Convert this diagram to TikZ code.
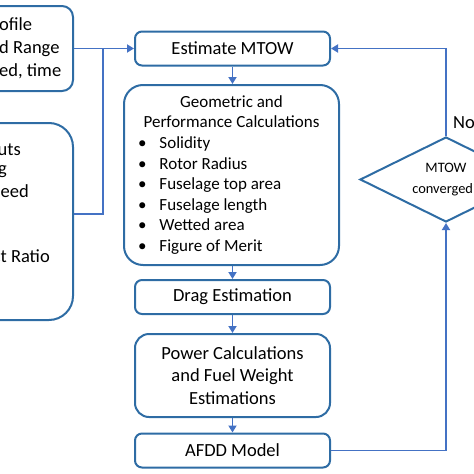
\documentclass[tikz,border=0pt]{standalone}
\usepackage{fontspec}
\setmainfont{Carlito}
\usetikzlibrary{shapes.geometric,arrows.meta}
\definecolor{boxblue}{RGB}{46,108,164}
\definecolor{lineblue}{RGB}{68,114,196}
\newcommand{\bitem}[1]{\makebox[187pt][l]{\makebox[21.5pt][l]{\textbullet}#1}}
\tikzset{
  box/.style={draw=boxblue,line width=2pt,rounded corners=7pt,minimum width=195pt,
    minimum height=34pt,inner sep=2pt,align=center,font=\fontsize{18.5}{22.5}\selectfont},
  decision/.style={diamond,draw=boxblue,line width=2pt,aspect=2,inner sep=0pt,
    minimum width=172pt,minimum height=85pt,align=center,font=\fontsize{14.4}{20.5}\selectfont},
  txt/.style={inner sep=0pt,anchor=west,align=left,font=\fontsize{18.5}{23}\selectfont},
  cut/.style={txt,anchor=east},
  flow/.style={draw=lineblue,line width=1.8pt,-{Triangle[length=7pt,width=8pt]}},
  link/.style={draw=lineblue,line width=1.8pt},
}
\begin{document}
\begin{tikzpicture}[x=1pt,y=-1pt]
    \useasboundingbox (0,0) rectangle (474,474);
    \clip (0,0) rectangle (474,474);
    % input boxes on the left (cut by the frame)
    \node[box,rounded corners=11pt,minimum width=200pt,minimum height=85pt] (mission) at (-27,48.5) {};
    \node[txt] (missiontxt) at (-1,48.5) {ofile\\d Range\\ed, time};
    \node[box,rounded corners=24pt,minimum width=200pt,minimum height=197pt] (inputs) at (-27,221.5) {};
    \node[cut] (inp1) at (21,150) {uts};
    \node[cut] (inp2) at (7,172) {g};
    \node[cut] (inp3) at (29,193) {peed};
    \node[cut] (inp4) at (50,256) {ct Ratio};
    % main column
    \node[box] (est) at (232.5,48.5) {Estimate MTOW};
    \node[box,rounded corners=19pt,minimum width=215pt,minimum height=180pt,
      font=\fontsize{17}{20.6}\selectfont] (geo) at (231.5,175)
      {Geometric and\\Performance Calculations\\\bitem{Solidity}\\\bitem{Rotor Radius}\\
       \bitem{Fuselage top area}\\\bitem{Fuselage length}\\\bitem{Wetted area}\\\bitem{Figure of Merit}};
    \node[box] (drag) at (232.5,297) {Drag Estimation};
    \node[box,rounded corners=14pt,minimum height=83pt] (power) at (232.5,375.5)
      {Power Calculations\\and Fuel Weight\\Estimations};
    \node[box] (afdd) at (232.5,450.5) {AFDD Model};
    % convergence check
    \node[decision] (conv) at (446,179.5) {MTOW\\converged?};
    \node[txt] (no) at (453,123) {No};
    % connectors
    \coordinate (join) at (103,48.5);
    \draw[flow] (mission.east) -- (est.west);
    \draw[link] ([yshift=7.5pt]inputs.east) -| (join);
    \draw[flow] (est.south) -- (est.south |- geo.north);
    \draw[flow] (drag.north |- geo.south) -- (drag.north);
    \draw[flow] (drag.south) -- (power.north);
    \draw[flow] (power.south) -- (afdd.north);
    \draw[flow] (afdd.east) -| (conv.south);
    \draw[flow] (conv.north) |- (est.east);
\end{tikzpicture}
\end{document}
